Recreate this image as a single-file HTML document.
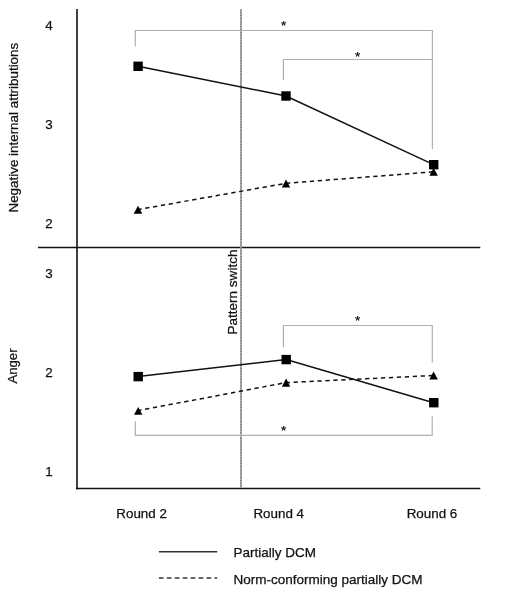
<!DOCTYPE html>
<html><head><meta charset="utf-8"><style>
html,body{margin:0;padding:0;background:#fff;}
body{width:520px;height:596px;overflow:hidden;}
svg{display:block;}
text{font-family:"Liberation Sans",Arial,sans-serif;font-size:13.4px;fill:#111;stroke:#111;stroke-width:0.25px;}
</style></head><body>
<svg width="520" height="596" viewBox="0 0 520 596">
<!-- axes -->
<line x1="77" y1="9" x2="77" y2="489.3" stroke="#111" stroke-width="1.6"/>
<line x1="38" y1="247.5" x2="480.3" y2="247.5" stroke="#111" stroke-width="1.6"/>
<line x1="76" y1="488.5" x2="480.3" y2="488.5" stroke="#111" stroke-width="1.6"/>
<!-- pattern switch dotted line -->
<line x1="241" y1="9.5" x2="241" y2="488" stroke="#a2a2a2" stroke-width="1.8"/><line x1="241" y1="9.5" x2="241" y2="488" stroke="#808080" stroke-width="1.8" stroke-dasharray="1 1.8"/>
<text transform="translate(237.2,334.6) rotate(-90)" style="font-size:13.55px">Pattern switch</text>
<!-- y labels -->
<text transform="translate(17.5,212.5) rotate(-90)">Negative internal attributions</text>
<text transform="translate(17.3,383.6) rotate(-90)" style="font-size:13.2px">Anger</text>
<!-- tick labels -->
<text x="45.3" y="30.4">4</text>
<text x="45.3" y="128.7">3</text>
<text x="45.3" y="227.8">2</text>
<text x="45.3" y="277.8">3</text>
<text x="45.3" y="377">2</text>
<text x="45.3" y="476.1">1</text>
<!-- x labels -->
<text x="116.3" y="518">Round 2</text>
<text x="253.4" y="518">Round 4</text>
<text x="406.7" y="518">Round 6</text>
<!-- brackets -->
<g fill="none" stroke="#b0b0b0" stroke-width="1.2">
<polyline points="135.3,46.5 135.3,30.5 432.4,30.5 432.4,149"/>
<polyline points="283.4,80.2 283.4,59.5 432.4,59.5"/>
<polyline points="283.4,347.3 283.4,325.5 432.3,325.5 432.3,362.3"/>
<polyline points="135.3,421.2 135.3,435.3 432.2,435.3 432.2,416.3"/>
</g>
<text x="281" y="30" font-size="13">*</text>
<text x="355.1" y="61.1" font-size="13">*</text>
<text x="355.1" y="324.5" font-size="13">*</text>
<text x="281" y="434.5" font-size="13">*</text>
<!-- data lines -->
<g fill="none" stroke="#111" stroke-width="1.5">
<polyline points="138,66.3 286,96 433.6,164.6"/>
<polyline points="138,376.6 286.2,359.6 433.6,402.7"/>
</g>
<g fill="none" stroke="#111" stroke-width="1.5" stroke-dasharray="4.3 3.65">
<polyline points="138,209.6 286,183.3 433.6,171.8" stroke-dashoffset="0.65"/>
<polyline points="138.2,410.6 286.1,382.6 433.6,375.5" stroke-dashoffset="0.95"/>
</g>
<!-- markers -->
<g fill="#000">
<path d="M138,205.7 L142.3,213.7 L133.7,213.7Z"/>
<path d="M286,179.5 L290.2,187.6 L281.8,187.6Z"/>
<path d="M433.6,167.8 L437.8,175.8 L429.4,175.8Z"/>
<path d="M138.2,407 L142.4,414.8 L134,414.8Z"/>
<path d="M286.1,378.5 L290.3,386.7 L281.9,386.7Z"/>
<path d="M433.6,371.5 L437.9,379.6 L429.3,379.6Z"/>
<rect x="133.4" y="61.6" width="9.4" height="9.4"/>
<rect x="281.3" y="91.3" width="9.4" height="9.4"/>
<rect x="429" y="160" width="9.4" height="9.4"/>
<rect x="133.5" y="371.9" width="9.4" height="9.4"/>
<rect x="281.5" y="354.9" width="9.4" height="9.4"/>
<rect x="429.1" y="398" width="9.4" height="9.4"/>
</g>
<!-- legend -->
<line x1="158.9" y1="551.8" x2="217.2" y2="551.8" stroke="#333" stroke-width="1.6"/>
<line x1="158.9" y1="578" x2="217.2" y2="578" stroke="#333" stroke-width="1.6" stroke-dasharray="4.6 3.35"/>
<text x="233.4" y="557.3" style="font-size:13.5px">Partially DCM</text>
<text x="233.4" y="583.6" style="font-size:13.5px">Norm-conforming partially DCM</text>
</svg>
</body></html>
